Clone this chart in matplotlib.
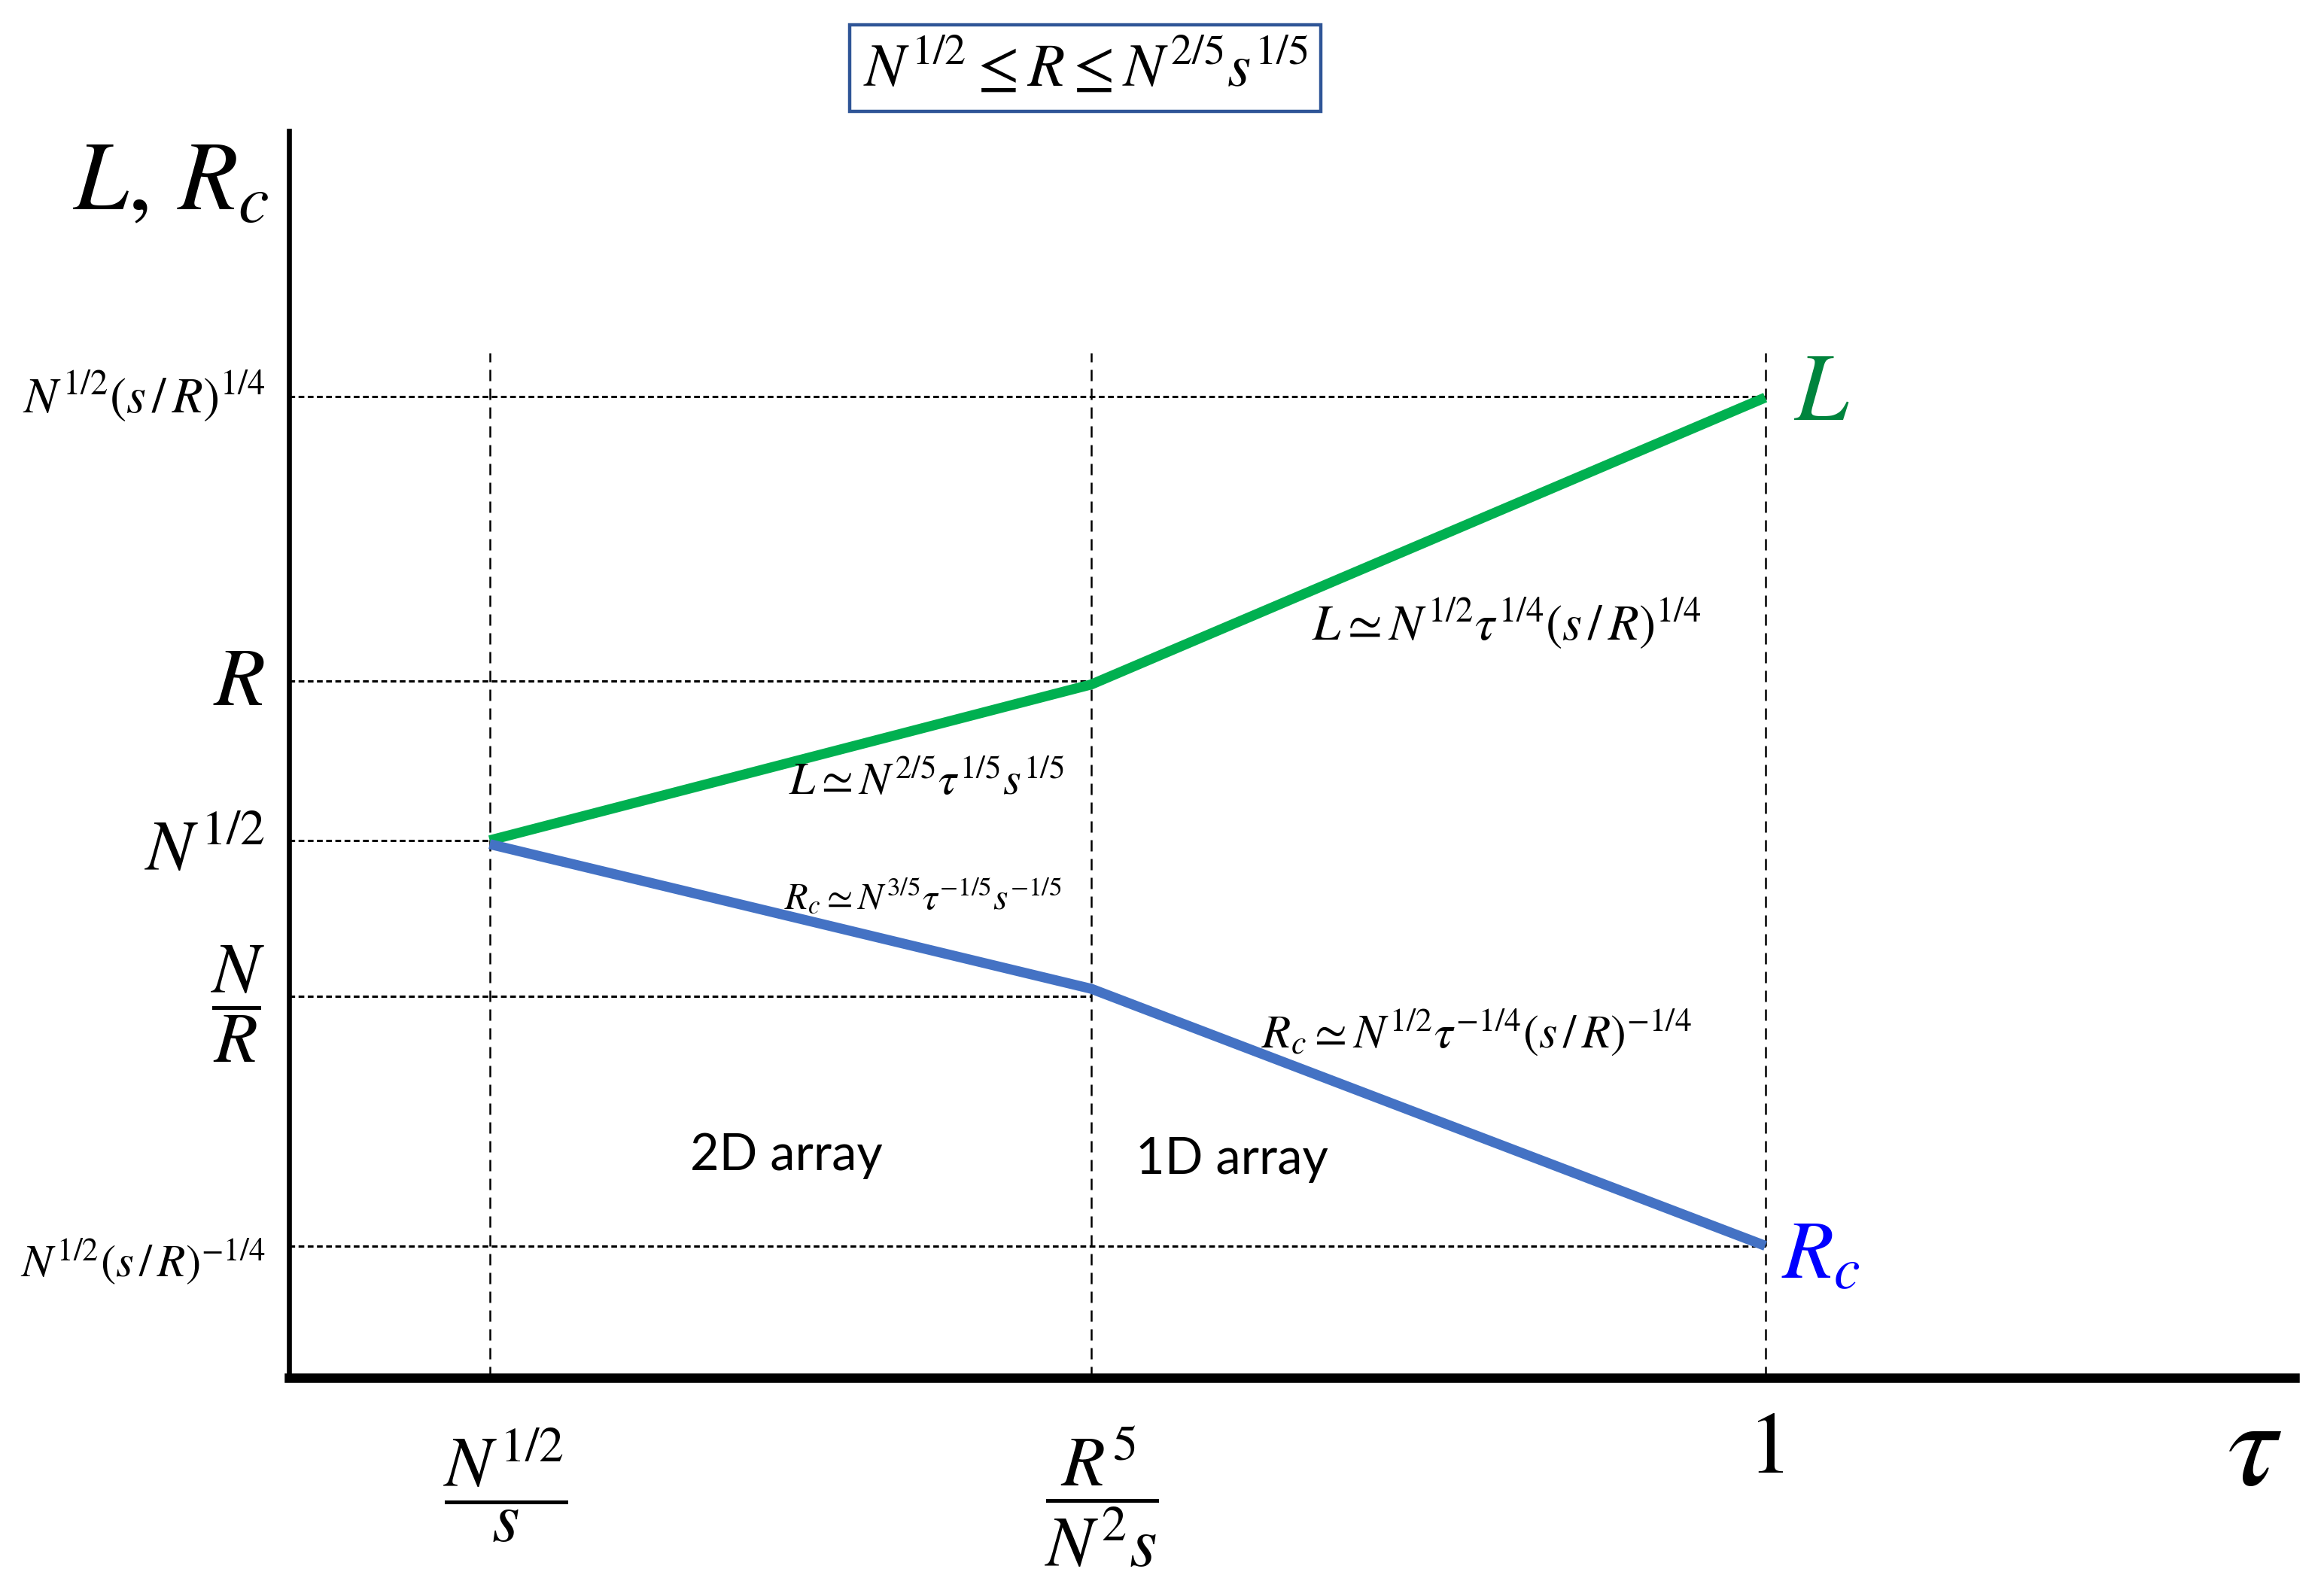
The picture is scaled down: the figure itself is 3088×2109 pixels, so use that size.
import matplotlib
matplotlib.use("Agg")
import matplotlib.pyplot as plt

plt.rcParams["mathtext.fontset"] = "stix"
plt.rcParams["font.family"] = ["STIXGeneral", "DejaVu Serif"]

# crossover times on the (schematic, log) tau axis
TAU_POS = [1.0, 4.0, 7.36]
TAU_LABELS = [r"$\dfrac{N^{1/2}}{s}$", r"$\dfrac{R^{5}}{N^{2}s}$", r"$1$"]
TAU_LABEL_Y = [-0.86, -0.95, -0.59]
TAU_LABEL_DX = [0.08, 0.05, 0.0]
TAU_SIZES = [34, 34, 42]

# characteristic sizes on the (schematic, log) size axis
LEVEL_POS = [7.87, 5.59, 4.31, 3.06, 1.06]
LEVEL_LABELS = [r"$N^{1/2}(s\,/\,R)^{1/4}$", r"$R$", r"$N^{1/2}$",
                r"$\dfrac{N}{R}$", r"$N^{1/2}(s\,/\,R)^{-1/4}$"]
LEVEL_SIZES = [24, 40, 34, 34, 22]
LEVEL_LABEL_Y = [7.87, 5.55, 4.2, 3.0, 0.93]
LEVEL_END = [7.36, 4.0, 1.0, 4.0, 7.36]  # how far each dashed guide runs

L_VALUES = [4.31, 5.56, 7.86]
RC_VALUES = [4.28, 3.12, 1.06]

GREEN = "#00B050"
BLUE = "#4472C4"

fig = plt.figure(figsize=(15.44, 10.545), dpi=200)
ax = fig.add_axes([0.1244, 0.1317, 0.863, 0.786])
ax.set_xlim(0, 10)
ax.set_ylim(0, 10)

for s in ["top", "right"]:
    ax.spines[s].set_visible(False)
ax.spines["left"].set_linewidth(2.4)
ax.spines["bottom"].set_linewidth(4.5)
ax.set_xticks([])
ax.set_yticks([])

# vertical guides
for x in TAU_POS:
    ax.plot([x, x], [0, 8.22], color="black", lw=0.9, ls=(0, (6, 4)), zorder=1)

# horizontal guides
for y, xe in zip(LEVEL_POS, LEVEL_END):
    ax.plot([0, xe], [y, y], color="black", lw=1.1, ls=(0, (2.5, 1.5)), zorder=1)

ax.plot(TAU_POS, L_VALUES, color=GREEN, lw=4.8, solid_capstyle="butt", zorder=3)
ax.plot(TAU_POS, RC_VALUES, color=BLUE, lw=4.8, solid_capstyle="butt", zorder=3)

# tick labels
for x, dx, lab, y, fs in zip(TAU_POS, TAU_LABEL_DX, TAU_LABELS, TAU_LABEL_Y, TAU_SIZES):
    ax.text(x + dx, y, lab, fontsize=fs, ha="center", va="center", clip_on=False)
for y, lab, fs in zip(LEVEL_LABEL_Y, LEVEL_LABELS, LEVEL_SIZES):
    ax.text(-0.12, y, lab, fontsize=fs, ha="right", va="center", clip_on=False)

# axis names
ax.text(-0.1, 9.55, r"$L,\,R_{c}$", fontsize=47, ha="right", va="center", clip_on=False)
ax.text(9.8, -0.62, r"$\tau$", fontsize=60, ha="center", va="center", clip_on=False)

# curve names
ax.text(TAU_POS[2] + 0.14, L_VALUES[2], r"$L$", fontsize=46, color="#00843D",
        ha="left", va="center")
ax.text(TAU_POS[2] + 0.08, RC_VALUES[2] - 0.1, r"$R_{c}$", fontsize=40, color="#0000FF",
        ha="left", va="center")

# scaling relations
ax.text(6.07, 6.05, r"$L\simeq N^{1/2}\tau^{1/4}(s\,/\,R)^{1/4}$", fontsize=24,
        ha="center", va="center")
ax.text(3.18, 4.77, r"$L\simeq N^{2/5}\tau^{1/5}s^{1/5}$", fontsize=22,
        ha="center", va="center")
ax.text(3.16, 3.85, r"$R_{c}\simeq N^{3/5}\tau^{-1/5}s^{-1/5}$", fontsize=18,
        ha="center", va="center")
ax.text(5.92, 2.77, r"$R_{c}\simeq N^{1/2}\tau^{-1/4}(s\,/\,R)^{-1/4}$", fontsize=22.5,
        ha="center", va="center")

ax.text(2.48, 1.78, "2D array", fontsize=24, family="Lato", ha="center", va="center")
ax.text(4.7, 1.75, "1D array", fontsize=24, family="Lato", ha="center", va="center")

# regime condition
fig.text(0.467, 0.957, r"$N^{1/2}\leq R\leq N^{2/5}s^{1/5}$", fontsize=29,
         ha="center", va="center",
         bbox=dict(boxstyle="square,pad=0.22", fc="white", ec="#2F5597", lw=1.6))

fig.savefig("out.png", dpi=200, facecolor="white")
